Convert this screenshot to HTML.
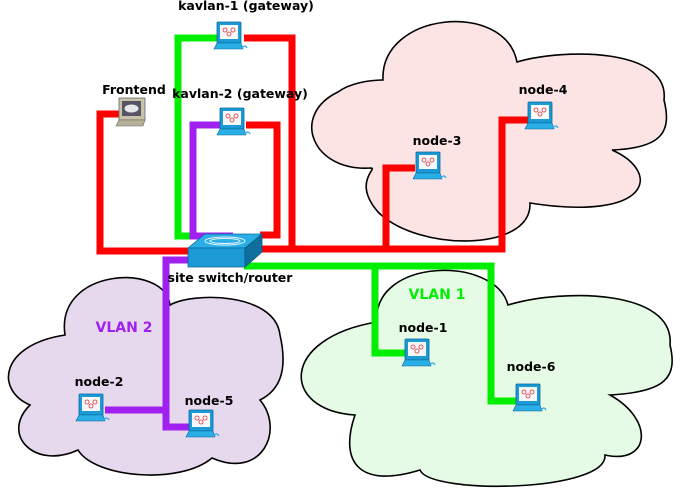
<!DOCTYPE html>
<html><head><meta charset="utf-8"><style>
html,body{margin:0;padding:0;background:#fff;width:675px;height:490px;overflow:hidden}
text{font-family:"DejaVu Sans","Liberation Sans",sans-serif;font-weight:bold}
</style></head><body>
<svg width="675" height="490" viewBox="0 0 675 490" xmlns="http://www.w3.org/2000/svg">
<defs>
<g id="pc">
  <rect x="3" y="0" width="24" height="21" rx="1" fill="#1b9ad6" stroke="#0b6a9a" stroke-width="0.8"/>
  <rect x="6" y="3" width="18" height="14" fill="#f4f8fb"/>
  <circle cx="11" cy="8" r="2" fill="none" stroke="#e03030" stroke-width="0.8"/>
  <circle cx="19" cy="8" r="2" fill="none" stroke="#e03030" stroke-width="0.8"/>
  <circle cx="15" cy="12" r="2" fill="none" stroke="#e03030" stroke-width="0.8"/>
  <polygon points="3,21 27,21 29,27 0,27" fill="#29aee6" stroke="#0b6a9a" stroke-width="0.6"/>
  <path d="M28,26 q3,-4 5,0" fill="none" stroke="#29aee6" stroke-width="1.2"/>
</g>
</defs>
<path d="M383,80 C380,12 505,0 517,62 C565,48 670,48 664,100 C672,132 662,148 612,150 C662,172 652,222 530,203 C532,252 418,252 378,212 C352,182 378,168 371,168 C312,172 290,115 338,92 C350,83 370,80 383,80 Z" fill="#fde4e4" stroke="#000" stroke-width="1.6"/>
<path d="M65,335 C55,268 165,262 170,305 C192,292 275,292 280,335 C288,370 280,390 260,400 C285,430 262,480 212,458 C180,485 95,478 78,450 C35,470 0,435 30,405 C-5,390 0,345 65,335 Z" fill="#e6d8ed" stroke="#000" stroke-width="1.6"/>
<path d="M377,322 C372,258 495,255 508,305 C565,288 675,290 670,345 C678,378 665,392 610,395 C655,420 650,465 605,455 C608,492 430,495 420,470 C355,490 340,458 355,415 C280,410 280,338 377,322 Z" fill="#e6fbe6" stroke="#000" stroke-width="1.6"/>
<g fill="none" stroke-width="7" stroke-linejoin="miter">
<polyline stroke="#ff0000" points="128,114 100,114 100,251 192,251"/>
<polyline stroke="#ff0000" points="258,249 502,249 502,120 528,120"/>
<polyline stroke="#ff0000" points="386,249 386,168 415,168"/>
<polyline stroke="#ff0000" points="244,38 292,38 292,249"/>
<polyline stroke="#ff0000" points="246,125 277,125 277,235 260,235"/>
<polyline stroke="#00ee00" points="219,38 178,38 178,236 194,236"/>
<polyline stroke="#00ee00" points="244,266 491,266 491,401 516,401"/>
<polyline stroke="#00ee00" points="375,266 375,353 405,353"/>
<polyline stroke="#a020f0" points="221,125 193,125 193,236 233,236"/>
<polyline stroke="#a020f0" points="192,260 166,260 166,427 192,427"/>
<polyline stroke="#a020f0" points="105,410 166,410"/>
</g>
<polygon points="188,248 205,234 262,234 245,248" fill="#29aee6" stroke="#0b6a9a" stroke-width="0.8"/>
<polygon points="188,248 245,248 245,267 188,267" fill="#1b9ad6" stroke="#0b6a9a" stroke-width="0.8"/>
<polygon points="245,248 262,234 262,252 245,267" fill="#0e6f9e" stroke="#0b5a80" stroke-width="0.8"/>
<ellipse cx="225" cy="241" rx="20" ry="4" fill="none" stroke="#e8f6ff" stroke-width="1"/>
<ellipse cx="225" cy="241" rx="15" ry="2.5" fill="none" stroke="#e8f6ff" stroke-width="1"/>
<g transform="translate(116,98)">
  <rect x="3" y="0" width="26" height="22" fill="#c8c3a8" stroke="#666" stroke-width="0.8"/>
  <rect x="6" y="3" width="19" height="15" fill="#556"/>
  <ellipse cx="15.5" cy="10.5" rx="7" ry="4" fill="#e8e8e8"/>
  <polygon points="3,22 29,22 27,28 0,28" fill="#b5b097" stroke="#666" stroke-width="0.6"/>
</g>
<use href="#pc" x="214" y="22"/>
<use href="#pc" x="217" y="108"/>
<use href="#pc" x="413" y="152"/>
<use href="#pc" x="525" y="102"/>
<use href="#pc" x="402" y="339"/>
<use href="#pc" x="513" y="384"/>
<use href="#pc" x="76" y="394"/>
<use href="#pc" x="186" y="410"/>
<g font-size="12.5" fill="#000">
<text x="246" y="10" text-anchor="middle">kavlan-1 (gateway)</text>
<text x="240" y="98" text-anchor="middle">kavlan-2 (gateway)</text>
<text x="134" y="94" text-anchor="middle">Frontend</text>
<text x="230" y="282" text-anchor="middle">site switch/router</text>
<text x="437" y="145" text-anchor="middle">node-3</text>
<text x="543" y="94" text-anchor="middle">node-4</text>
<text x="423" y="332" text-anchor="middle">node-1</text>
<text x="531" y="371" text-anchor="middle">node-6</text>
<text x="99" y="386" text-anchor="middle">node-2</text>
<text x="209" y="405" text-anchor="middle">node-5</text>
</g>
<text x="124" y="332" font-size="14" fill="#a020f0" text-anchor="middle">VLAN 2</text>
<text x="437" y="299" font-size="14" fill="#00ee00" text-anchor="middle">VLAN 1</text>
</svg>
</body></html>
